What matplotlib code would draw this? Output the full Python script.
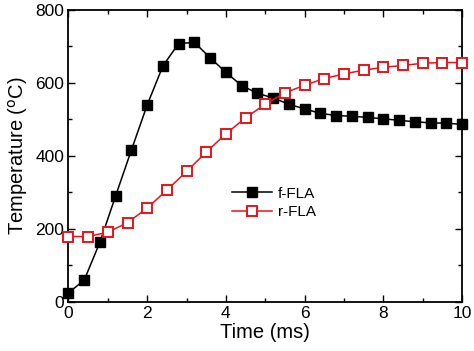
import matplotlib
matplotlib.use("Agg")
import matplotlib.pyplot as plt
from matplotlib.ticker import MultipleLocator

plt.rcParams['font.family'] = ['Liberation Sans', 'DejaVu Sans']

# f-FLA: filled black squares
time_f = [0.0, 0.4, 0.8, 1.2, 1.6, 2.0, 2.4, 2.8, 3.2, 3.6, 4.0, 4.4, 4.8,
          5.2, 5.6, 6.0, 6.4, 6.8, 7.2, 7.6, 8.0, 8.4, 8.8, 9.2, 9.6, 10.0]
temp_f = [25, 60, 164, 291, 416, 539, 646, 707, 710, 668, 628, 592, 571,
          558, 541, 528, 516, 510, 508, 505, 501, 497, 493, 490, 489, 486]

# r-FLA: open red squares
time_r = [0.0, 0.5, 1.0, 1.5, 2.0, 2.5, 3.0, 3.5, 4.0, 4.5, 5.0,
          5.5, 6.0, 6.5, 7.0, 7.5, 8.0, 8.5, 9.0, 9.5, 10.0]
temp_r = [179, 179, 191, 217, 257, 306, 357, 410, 460, 504, 541,
          572, 593, 611, 624, 634, 642, 647, 653, 655, 655]

fig = plt.figure(figsize=(4.74, 3.51), dpi=100)
ax = fig.add_axes([0.1445, 0.1396, 0.8302, 0.8333])

ax.plot(time_f, temp_f, '-s', color='black', lw=1.1, ms=7,
        mfc='black', mec='black', label='f-FLA', clip_on=False, zorder=3)
ax.plot(time_r, temp_r, '-s', color='#e8141a', lw=1.1, ms=6.5,
        mfc='white', mec='#e8141a', mew=1.4, label='r-FLA', clip_on=False, zorder=3)

ax.set_xlim(0, 10)
ax.set_ylim(0, 800)
ax.xaxis.set_major_locator(MultipleLocator(2))
ax.xaxis.set_minor_locator(MultipleLocator(1))
ax.yaxis.set_major_locator(MultipleLocator(200))
ax.yaxis.set_minor_locator(MultipleLocator(100))
ax.tick_params(which='both', direction='in', top=True, right=True,
               labelsize=12.5, width=1, pad=3)
ax.tick_params(which='major', length=5)
ax.tick_params(which='minor', length=3)
for s in ax.spines.values():
    s.set_linewidth(1.3)

ax.set_xlabel('Time (ms)', fontsize=14.5, labelpad=1)
ax.set_ylabel('Temperature ($^{\\mathrm{o}}$C)', fontsize=14.5, labelpad=4)

ax.legend(loc='upper left', bbox_to_anchor=(0.4, 0.415), frameon=False,
          fontsize=11, handlelength=2.6, handletextpad=0.4,
          labelspacing=0.3, borderaxespad=0)

fig.savefig('out.png', dpi=100)
